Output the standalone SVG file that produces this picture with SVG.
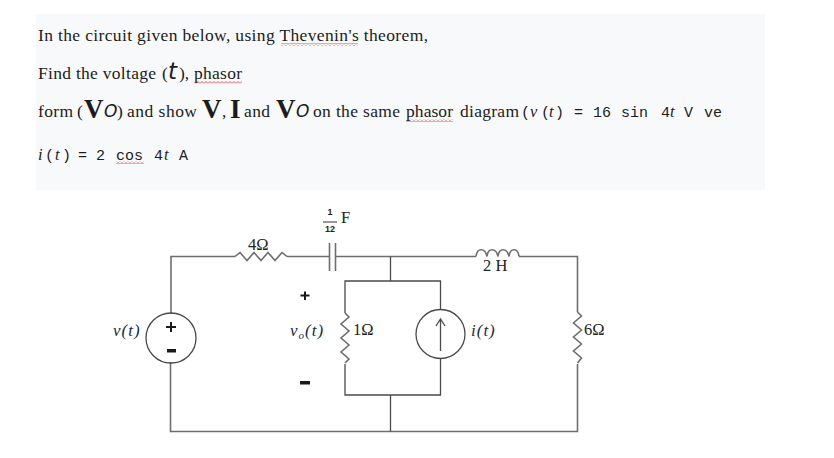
<svg xmlns="http://www.w3.org/2000/svg" width="834" height="458" viewBox="0 0 834 458">
<defs><pattern id="wave" width="4" height="3" patternUnits="userSpaceOnUse"><path d="M0 2.500L2 .5L4 2.500" fill="none" stroke="#d9453c" stroke-width=".9"/></pattern></defs>
<style>
.s{font-family:"Liberation Serif",serif;font-size:17.5px;fill:#1c1c1c}
.m{font-family:"Liberation Mono",monospace;font-size:15px;fill:#1c1c1c}
.i{font-family:"Liberation Serif",serif;font-size:16.500px;font-style:italic;fill:#1c1c1c}
.b{font-family:"Liberation Serif",serif;font-weight:bold;font-size:27px;fill:#1c1c1c}
.o{font-family:"DejaVu Sans",sans-serif;font-style:italic;fill:#1c1c1c}
.c{font-family:"Liberation Serif",serif;font-size:16.500px;fill:#222}
.v{font-family:"Liberation Serif",serif;font-style:italic;font-size:17px;letter-spacing:1px;fill:#1a2a44}
.w{fill:none;stroke:#6e6e6e;stroke-width:1.6}
.d{fill:none;stroke:#4a4a4a;stroke-width:1.3}
.p{fill:#1a1a1a}
.f{font-family:"Liberation Sans",sans-serif;font-size:9px;font-weight:bold;fill:#222;text-anchor:middle}
</style>
<rect width="834" height="458" fill="#fff"/>
<rect x="36" y="14" width="729" height="176" fill="#f8f9fb"/>
<g id="question">
<text class="s" x="38" y="41" textLength="390">In the circuit given below, using Thevenin's theorem,</text>
<rect x="281" y="43" width="77" height="3" fill="url(#wave)"/>
<text class="s" x="38" y="79" textLength="118">Find the voltage</text>
<text class="s" x="162" y="79">(</text>
<text class="o" x="168" y="79" font-size="23">t</text>
<text class="s" x="179" y="79">),</text>
<text class="s" x="194" y="79" textLength="48">phasor</text>
<rect x="195" y="81" width="47" height="3" fill="url(#wave)"/>
<text class="s" x="38" y="117" textLength="35">form</text>
<text class="s" x="77" y="117">(</text>
<text class="b" x="84" y="118">V</text>
<text class="o" x="104" y="117" font-size="17">O</text>
<text class="s" x="117" y="117">)</text>
<text class="s" x="127" y="117" textLength="70">and show</text>
<text class="b" x="202" y="118">V</text>
<text class="s" x="222" y="117">,</text>
<text class="b" x="230" y="118">I</text>
<text class="s" x="244" y="117" textLength="26">and</text>
<text class="b" x="276" y="118">V</text>
<text class="o" x="296" y="117" font-size="17">O</text>
<text class="s" x="313" y="117" textLength="87">on the same</text>
<text class="s" x="406" y="117" textLength="47">phasor</text>
<rect x="406" y="119" width="47" height="3" fill="url(#wave)"/>
<text class="s" x="460" y="117" textLength="59">diagram</text>
<text class="m" x="521" y="117">(</text><text class="i" x="530" y="117">v</text><text class="m" x="541" y="117">(</text><text class="i" x="549" y="117">t</text><text class="m" x="555" y="117">)</text>
<text class="m" x="574" y="117">=</text><text class="m" x="593" y="117">16</text><text class="m" x="621" y="117">sin</text>
<text class="m" x="661" y="117">4</text><text class="i" x="670" y="117">t</text><text class="m" x="684" y="117">V</text><text class="m" x="704" y="117">ve</text>
<text class="i" x="38" y="160">i</text><text class="m" x="45" y="160">(</text><text class="i" x="55" y="160">t</text><text class="m" x="62" y="160">)</text>
<text class="m" x="78" y="160">=</text><text class="m" x="96" y="160">2</text><text class="m" x="116" y="160">cos</text>
<text class="m" x="154" y="160">4</text><text class="i" x="164" y="160">t</text><text class="m" x="179" y="160">A</text>
<rect x="116" y="161" width="28" height="3" fill="url(#wave)"/>
</g>
<g id="connectors">
<path class="w" d="M171 314V256.500H235M287 256.500H329M335 256.500H476M519 256.500H577.500V312M577.500 364V431.500H170.500V362"/>
<path class="d" d="M390.500 256.500V281M345 313V281H440.500V309M440.500 359V395H345V364M390.500 395V431.500"/>
</g>
<g id="v-source"><circle class="d" cx="171" cy="338" r="25"/>
<path class="p" d="M170 322h2v4h4v2h-4v4h-2v-4h-4v-2h4zM167 349h9v3.500h-9z"/>
<text class="v" x="113" y="336">v(t)</text></g>
<g id="r4"><path class="w" d="M235 256.500l5-4 7 8 7-8 7 8 7-8 7 8 7-8 5 4"/><text class="c" x="248" y="250">4Ω</text></g>
<g id="cap"><path class="w" d="M329.500 243V271M335.500 243V271"/>
<text class="c" x="341" y="223">F</text>
<text class="f" x="330" y="215">1</text>
<path d="M323 222H337" stroke="#333" stroke-width="1"/>
<text class="f" x="330" y="232">12</text></g>
<g id="vo"><path class="p" d="M304 291.500h2v3h3.500v2h-3.500v3.500h-2v-3.500h-3.500v-2h3.500zM300 381h10v3.500h-10z"/>
<text class="v" x="290" y="336">v<tspan font-size="11" dy="3">o</tspan><tspan dy="-3">(t)</tspan></text></g>
<g id="r1"><path class="w" d="M345 313l4 4-8 7 8 7-8 7 8 7-8 7 8 7-4 4"/><text class="c" x="353" y="335">1Ω</text></g>
<g id="i-source"><circle class="d" cx="440.500" cy="334" r="24.500"/>
<path class="d" d="M440.500 351V319M436 326l4.500-7 4.500 7"/>
<text class="v" x="471" y="336">i(t)</text></g>
<g id="ind"><path class="w" d="M476 256.500c1-9 9-9 11 0c1-9 9-9 11 0c1-9 9-9 11 0c1-9 9-9 10 0"/><text class="c" x="483" y="271">2 H</text></g>
<g id="r6"><path class="w" d="M577.500 312l4 4-8 7 8 7-8 7 8 7-8 7 8 7-4 5"/><text class="c" x="584" y="335">6Ω</text></g>
</svg>
